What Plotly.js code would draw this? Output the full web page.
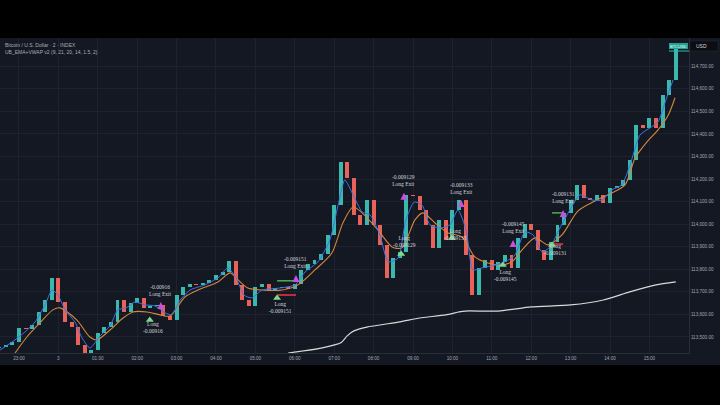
<!DOCTYPE html>
<html><head><meta charset="utf-8">
<script src="https://cdn.plot.ly/plotly-3.0.1.min.js"></script>
<style>
html,body{margin:0;padding:0;background:#000;width:720px;height:405px;overflow:hidden;}
#chart{position:absolute;left:0;top:38px;width:720px;height:327px;}
</style></head><body><div id="chart"></div>
<script>
// ---- data (hours on a continuous clock: 24 = 00:00 of day 3) ----
const candleStartHour = 22.5;
const candleStepHour = 10 / 60;
const firstOpen = 113450;
const closes = [
 113456,113465,113478,113540,113535,113553,113611,113664,113762,113655,
 113567,113544,113465,113425,113442,113518,113544,113567,113664,113611,
 113651,113673,113629,113638,113642,113593,113575,113686,113722,113735,
 113731,113739,113753,113775,113788,113837,113731,113664,113638,113722,
 113735,113708,113717,113722,113712,113735,113797,113824,113841,113868,
 113952,114085,114276,114205,114041,113997,114107,113997,113908,113762,
 113850,113877,114130,114125,114063,113997,113895,114019,113930,114063,
 114107,113864,113686,113806,113841,113797,113833,113864,113806,113939,
 114001,113974,113886,113841,113921,113997,114050,114107,114174,114116,
 114107,114130,114094,114161,114169,114196,114285,114440,114427,114471,
 114427,114573,114639,114790];

const fastTimes = [22.52,22.90,23.15,23.41,23.66,23.84,23.99,24.17,24.42,24.60,24.80,25.06,25.31,25.51,25.72,25.94,26.20,26.45,26.71,26.88,27.09,27.34,27.72,28.05,28.30,28.51,28.71,28.91,29.17,29.62,30.01,30.26,30.59,30.89,31.10,31.27,31.48,31.71,31.91,32.16,32.37,32.62,32.82,33.03,33.23,33.43,33.69,33.94,34.14,34.35,34.52,34.75,35.08,35.34,35.59,35.84,36.05,36.27,36.48,36.73,36.98,37.24,37.54,37.80,38.05,38.30,38.51,38.76,39.02,39.22,39.42,39.60];
const fastVals = [113442,113487,113522,113567,113642,113708,113686,113620,113567,113496,113451,113505,113549,113620,113629,113655,113642,113638,113607,113598,113664,113708,113731,113762,113806,113762,113686,113673,113708,113717,113731,113788,113833,113930,114085,114196,114130,114054,114041,113952,113833,113850,114019,114098,114085,113997,113983,113997,114063,113974,113797,113806,113819,113833,113864,113966,113952,113877,113899,113983,114063,114130,114107,114107,114152,114174,114263,114395,114427,114453,114551,114639];

const slowTimes = [22.90,23.20,23.53,23.86,24.04,24.47,24.80,24.98,25.31,25.64,25.89,26.25,26.58,26.83,27.21,27.54,28.05,28.36,28.56,28.81,29.17,29.68,30.08,30.51,30.94,31.22,31.48,31.71,32.11,32.47,32.72,33.05,33.25,33.56,33.89,34.24,34.57,34.90,35.21,35.51,35.77,36.10,36.43,36.78,37.19,37.62,37.95,38.38,38.64,38.96,39.22,39.48,39.65];
const slowVals = [113429,113500,113562,113620,113629,113575,113500,113487,113531,113584,113611,113611,113598,113593,113677,113708,113744,113784,113753,113717,113708,113708,113731,113797,113872,114005,114076,114050,113974,113899,113895,114019,114050,114005,113961,113943,113855,113828,113819,113833,113886,113939,113908,113952,114059,114103,114130,114174,114294,114369,114418,114484,114560];

const longTimes = [29.83,30.67,31.17,31.33,31.50,31.83,32.67,33.17,33.83,34.17,34.33,35.17,36.00,37.00,37.83,38.50,39.17,39.67];
const longVals = [113429,113451,113474,113505,113527,113544,113567,113584,113598,113611,113615,113615,113633,113642,113664,113700,113731,113744];

const entryTimes = [26.32,29.55,32.70,33.99,35.28,36.53];
const entryPrices = [113575,113673,113868,113939,113819,113908];
const exitTimes = [26.60,30.03,32.77,34.22,35.54,36.81];
const exitPrices = [113655,113775,114139,114107,113930,114063];
const tradeResults = ['-0.00916','-0.009151','-0.009129','-0.009133','-0.009145','-0.009131'];

const levelStart = [29.55,36.53];
const levelEnd = [30.03,36.81];
const takeProfit = [113749,114050];
const stopLoss = [113686,113912];

const tickHours = [23,24,25,26,27,28,29,30,31,32,33,34,35,36,37,38,39];
const tickLabels = ['23:00','3','01:00','02:00','03:00','04:00','05:00','06:00','07:00','08:00','09:00','10:00','11:00','12:00','13:00','14:00','15:00'];
const priceTicks = [113500,113600,113700,113800,113900,114000,114100,114200,114300,114400,114500,114600,114700];

// ---- build ----
const UP = '#3ab8ad', DOWN = '#e8625a';
const times = closes.map((_, i) => candleStartHour + i * candleStepHour);
const opens = closes.map((c, i) => i === 0 ? firstOpen : closes[i - 1]);
const bodyLow = closes.map((c, i) => Math.min(c, opens[i]));
const bodySize = closes.map((c, i) => Math.max(Math.abs(c - opens[i]), 4));
const bodyColor = closes.map((c, i) => c >= opens[i] ? UP : DOWN);

const traces = [];
traces.push({type:'scatter', mode:'lines', x:longTimes, y:longVals, line:{color:'#d8d8d8', width:1.2, shape:'spline', smoothing:0.6}, hoverinfo:'skip'});
traces.push({type:'scatter', mode:'lines', x:slowTimes, y:slowVals, line:{color:'#d4873a', width:1.1, shape:'spline', smoothing:0.8}, hoverinfo:'skip'});
traces.push({type:'bar', x:times, base:bodyLow, y:bodySize, width:candleStepHour * 0.6,
  marker:{color:bodyColor, line:{width:0}}, hoverinfo:'skip'});
traces.push({type:'scatter', mode:'lines', x:fastTimes, y:fastVals, line:{color:'#3a74e8', width:1, shape:'spline', smoothing:0.6}, hoverinfo:'skip'});
levelStart.forEach((s, k) => {
  traces.push({type:'scatter', mode:'lines', x:[s, levelEnd[k]], y:[takeProfit[k], takeProfit[k]], line:{color:'#4caf50', width:1.5}, hoverinfo:'skip'});
  traces.push({type:'scatter', mode:'lines', x:[s, levelEnd[k]], y:[stopLoss[k], stopLoss[k]], line:{color:'#f23645', width:1.5}, hoverinfo:'skip'});
});
traces.push({type:'scatter', mode:'markers', x:entryTimes, y:entryPrices, marker:{symbol:'triangle-up', size:7, color:'#7fd98a'}, hoverinfo:'skip'});
traces.push({type:'scatter', mode:'markers', x:exitTimes, y:exitPrices, marker:{symbol:'arrow-up', size:7, color:'#c94fe0'}, hoverinfo:'skip'});

const entryShift = [-7, -10, 12, 3, -10, -5];
const lblFont = {family:'Liberation Serif, serif', size:5.5, color:'#d1d4dc'};
const annotations = [];
entryTimes.forEach((t, k) => {
  annotations.push({x:t, y:entryPrices[k], xref:'x', yref:'y', text:'Long<br>' + tradeResults[k], showarrow:false, yshift:entryShift[k], xshift:3, font:lblFont});
  annotations.push({x:exitTimes[k], y:exitPrices[k], xref:'x', yref:'y', text:tradeResults[k] + '<br>Long Exit', showarrow:false, yshift:12, font:lblFont});
});
const PH = 315, PW = 689;
const hdrFont = {family:'Liberation Sans, Arial, sans-serif', size:5, color:'#a9acb5'};
annotations.push({xref:'paper', yref:'paper', x:3/PW, y:1-7/PH, xanchor:'left', yanchor:'middle', text:'Bitcoin / U.S. Dollar · 2 · INDEX', showarrow:false, font:hdrFont});
annotations.push({xref:'paper', yref:'paper', x:3/PW, y:1-14/PH, xanchor:'left', yanchor:'middle', text:'UB_EMA+VWAP v2 (9, 21, 20, 14, 1.5, 2)', showarrow:false, font:hdrFont});
annotations.push({xref:'paper', yref:'paper', x:678.5/PW, y:1-8/PH, xanchor:'center', yanchor:'middle', text:'BTCUSD', showarrow:false, font:{family:'Liberation Sans, Arial, sans-serif', size:4, color:'#ffffff'}});
annotations.push({xref:'paper', yref:'paper', x:694/PW, y:1-8/PH, xanchor:'left', yanchor:'middle', text:'USD', showarrow:false, font:{family:'Liberation Sans, Arial, sans-serif', size:5, color:'#d1d4dc'}});

const shapes = [
  {type:'rect', xref:'paper', yref:'paper', x0:669/PW, x1:688/PW, y0:1-11/PH, y1:1-5/PH, fillcolor:'#1fa393', line:{width:0}, layer:'above'},
  {type:'rect', xref:'paper', yref:'paper', x0:690/PW, x1:718/PW, y0:1-13/PH, y1:1-3/PH, fillcolor:'#0b0d12', line:{width:0.5, color:'#2a2e39'}, layer:'above'},
  {type:'line', xref:'paper', yref:'paper', x0:669/PW, x1:689/PW, y0:1-13/PH, y1:1-13/PH, line:{color:'#2bbfae', width:1}, layer:'above'}
];

const tickFont = {family:'Liberation Sans, Arial, sans-serif', size:4.6, color:'#a3a6af'};
const layout = {
  width:720, height:327,
  paper_bgcolor:'#141823', plot_bgcolor:'#141823',
  margin:{l:0, r:31, t:0, b:12},
  showlegend:false, bargap:0,
  xaxis:{range:[22.518, 40.005], tickvals:tickHours, ticktext:tickLabels, showgrid:true, gridcolor:'#1e2230', gridwidth:1,
         zeroline:false, showline:true, linecolor:'#2a2e39', linewidth:1, ticks:'', tickfont:tickFont, fixedrange:true},
  yaxis:{range:[113429, 114825], side:'right', tickvals:priceTicks, tickformat:',.2f', showgrid:true, gridcolor:'#1e2230', gridwidth:1,
         zeroline:false, showline:true, linecolor:'#2a2e39', linewidth:1, ticks:'', tickfont:tickFont, fixedrange:true},
  annotations:annotations, shapes:shapes
};
Plotly.newPlot('chart', traces, layout, {staticPlot:true, displayModeBar:false});
</script></body></html>
